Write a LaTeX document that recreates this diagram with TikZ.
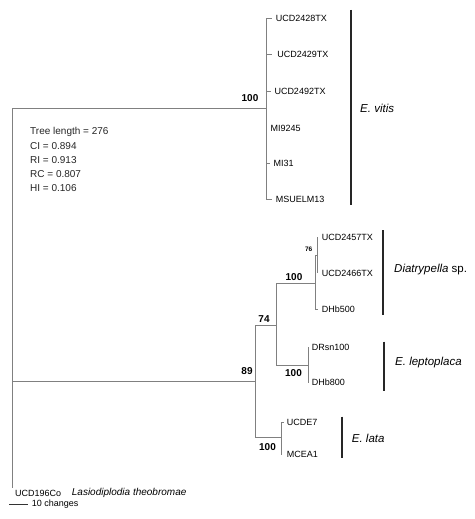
\documentclass[tikz,border=0pt]{standalone}
\usepackage{fontspec}
\setmainfont{Liberation Sans}
\begin{document}
\begin{tikzpicture}[x=1pt,y=-1pt,
  branch/.style={draw=black!50,line width=0.9pt},
  cladebar/.style={draw=black!85,line width=1.8pt},
  taxon/.style={anchor=west,inner sep=0pt,font=\fontsize{9}{10}\selectfont},
  boot/.style={inner sep=0pt,font=\fontsize{10}{12}\selectfont\bfseries},
  smallboot/.style={inner sep=0pt,font=\fontsize{6.5}{7}\selectfont\bfseries},
  clade/.style={anchor=west,inner sep=0pt,font=\fontsize{11.5}{13}\selectfont\itshape},
  stats/.style={anchor=north west,inner sep=0pt,align=left,text=black!85,font=\fontsize{10}{14.3}\selectfont}]
\useasboundingbox[fill=white] (0,0) rectangle (474,519);

% internal nodes
\coordinate (rootTop) at (12.7,108.3);
\coordinate (rootBot) at (12.7,488);
\coordinate (rootMid) at (12.7,381);
\coordinate (nV) at (266.7,108.3);
\coordinate (n89) at (255.5,381);
\coordinate (n74) at (276.5,325);
\coordinate (nD) at (315,283);
\coordinate (n76) at (317,255);
\coordinate (nL) at (308,365);
\coordinate (nE) at (281,437);

% tips
\coordinate (tV1) at (271.7,18);
\coordinate (tV2) at (272,54.3);
\coordinate (tV3) at (270.5,91);
\coordinate (tV4) at (266.7,128);
\coordinate (tV5) at (270,163.5);
\coordinate (tV6) at (271.7,199.5);
\coordinate (tD1) at (317,237);
\coordinate (tD2) at (317,273);
\coordinate (tD3) at (318,309);
\coordinate (tL1) at (308.5,347);
\coordinate (tL2) at (308.5,382);
\coordinate (tE1) at (284,422);
\coordinate (tE2) at (281.5,454);

% branches
\draw[branch] (rootTop) -- (rootBot);
\draw[branch] (rootTop) -- (nV);
\draw[branch] (rootMid) -- (n89);
\draw[branch] (nV) |- (tV1);
\draw[branch] (nV) |- (tV2);
\draw[branch] (nV) |- (tV3);
\draw[branch] (nV) |- (tV4);
\draw[branch] (nV) |- (tV5);
\draw[branch] (nV) |- (tV6);
\draw[branch] (n89) |- (n74);
\draw[branch] (n89) |- (nE);
\draw[branch] (n74) |- (nD);
\draw[branch] (n74) |- (nL);
\draw[branch] (nD) |- (n76);
\draw[branch] (nD) |- (tD3);
\draw[branch,line width=0.7pt] (n76) |- (tD1);
\draw[branch,line width=0.7pt] (n76) |- (tD2);
\draw[branch] (nL) |- (tL1);
\draw[branch] (nL) |- (tL2);
\draw[branch] (nE) |- (tE1);
\draw[branch] (nE) |- (tE2);

% taxa
\node[taxon] (UCD2428TX) at (275.7,18) {UCD2428TX};
\node[taxon] (UCD2429TX) at (277.2,54.3) {UCD2429TX};
\node[taxon] (UCD2492TX) at (274.3,91) {UCD2492TX};
\node[taxon] (MI9245) at (270.3,128) {MI9245};
\node[taxon] (MI31) at (273.3,163.5) {MI31};
\node[taxon] (MSUELM13) at (275.7,199.5) {MSUELM13};
\node[taxon] (UCD2457TX) at (321.7,237) {UCD2457TX};
\node[taxon] (UCD2466TX) at (321.7,273) {UCD2466TX};
\node[taxon] (DHb500) at (321.7,309) {DHb500};
\node[taxon] (DRsn100) at (311.7,347) {DRsn100};
\node[taxon] (DHb800) at (311.7,382) {DHb800};
\node[taxon] (UCDE7) at (286.7,422) {UCDE7};
\node[taxon] (MCEA1) at (286.7,454) {MCEA1};
\node[taxon] (UCD196Co) at (15,493.3) {UCD196Co};
\node[taxon,font=\fontsize{10}{12}\selectfont\itshape] (lasio) at (71.7,493.3) {Lasiodiplodia theobromae};

% bootstrap values
\node[boot] (b100v) at (250,98.3) {100};
\node[boot] (b89) at (247,371.5) {89};
\node[boot] (b74) at (264,319) {74};
\node[boot] (b100d) at (294,277) {100};
\node[smallboot] (b76) at (308.7,249.3) {76};
\node[boot] (b100l) at (293.5,372.7) {100};
\node[boot] (b100e) at (267.5,446.7) {100};

% clade bars
\coordinate (vA) at (351,10);
\coordinate (vB) at (351,205);
\draw[cladebar] (vA) -- (vB);
\node[clade] (Evitis) at (360,108.3) {E. vitis};
\coordinate (dA) at (383.3,230);
\coordinate (dB) at (383.3,315);
\draw[cladebar] (dA) -- (dB);
\node[clade] (Diat) at (394,270) {Diatrypella\upshape{} sp.};
\coordinate (lA) at (384.3,341.7);
\coordinate (lB) at (384.3,390.7);
\draw[cladebar] (lA) -- (lB);
\node[clade] (Elept) at (395,363) {E. leptoplaca};
\coordinate (eA) at (341.7,416.7);
\coordinate (eB) at (341.7,458.3);
\draw[cladebar] (eA) -- (eB);
\node[clade] (Elata) at (351.7,438.3) {E. lata};

% statistics
\node[stats] (stats) at (30,127.3) {Tree length = 276\\CI = 0.894\\RI = 0.913\\RC = 0.807\\HI = 0.106};

% scale bar
\coordinate (sA) at (9.3,504.5);
\coordinate (sB) at (28.3,504.5);
\draw[black!80,line width=0.7pt] (sA) -- (sB);
\node[taxon] (scale) at (31.7,504.5) {10 changes};
\end{tikzpicture}
\end{document}
